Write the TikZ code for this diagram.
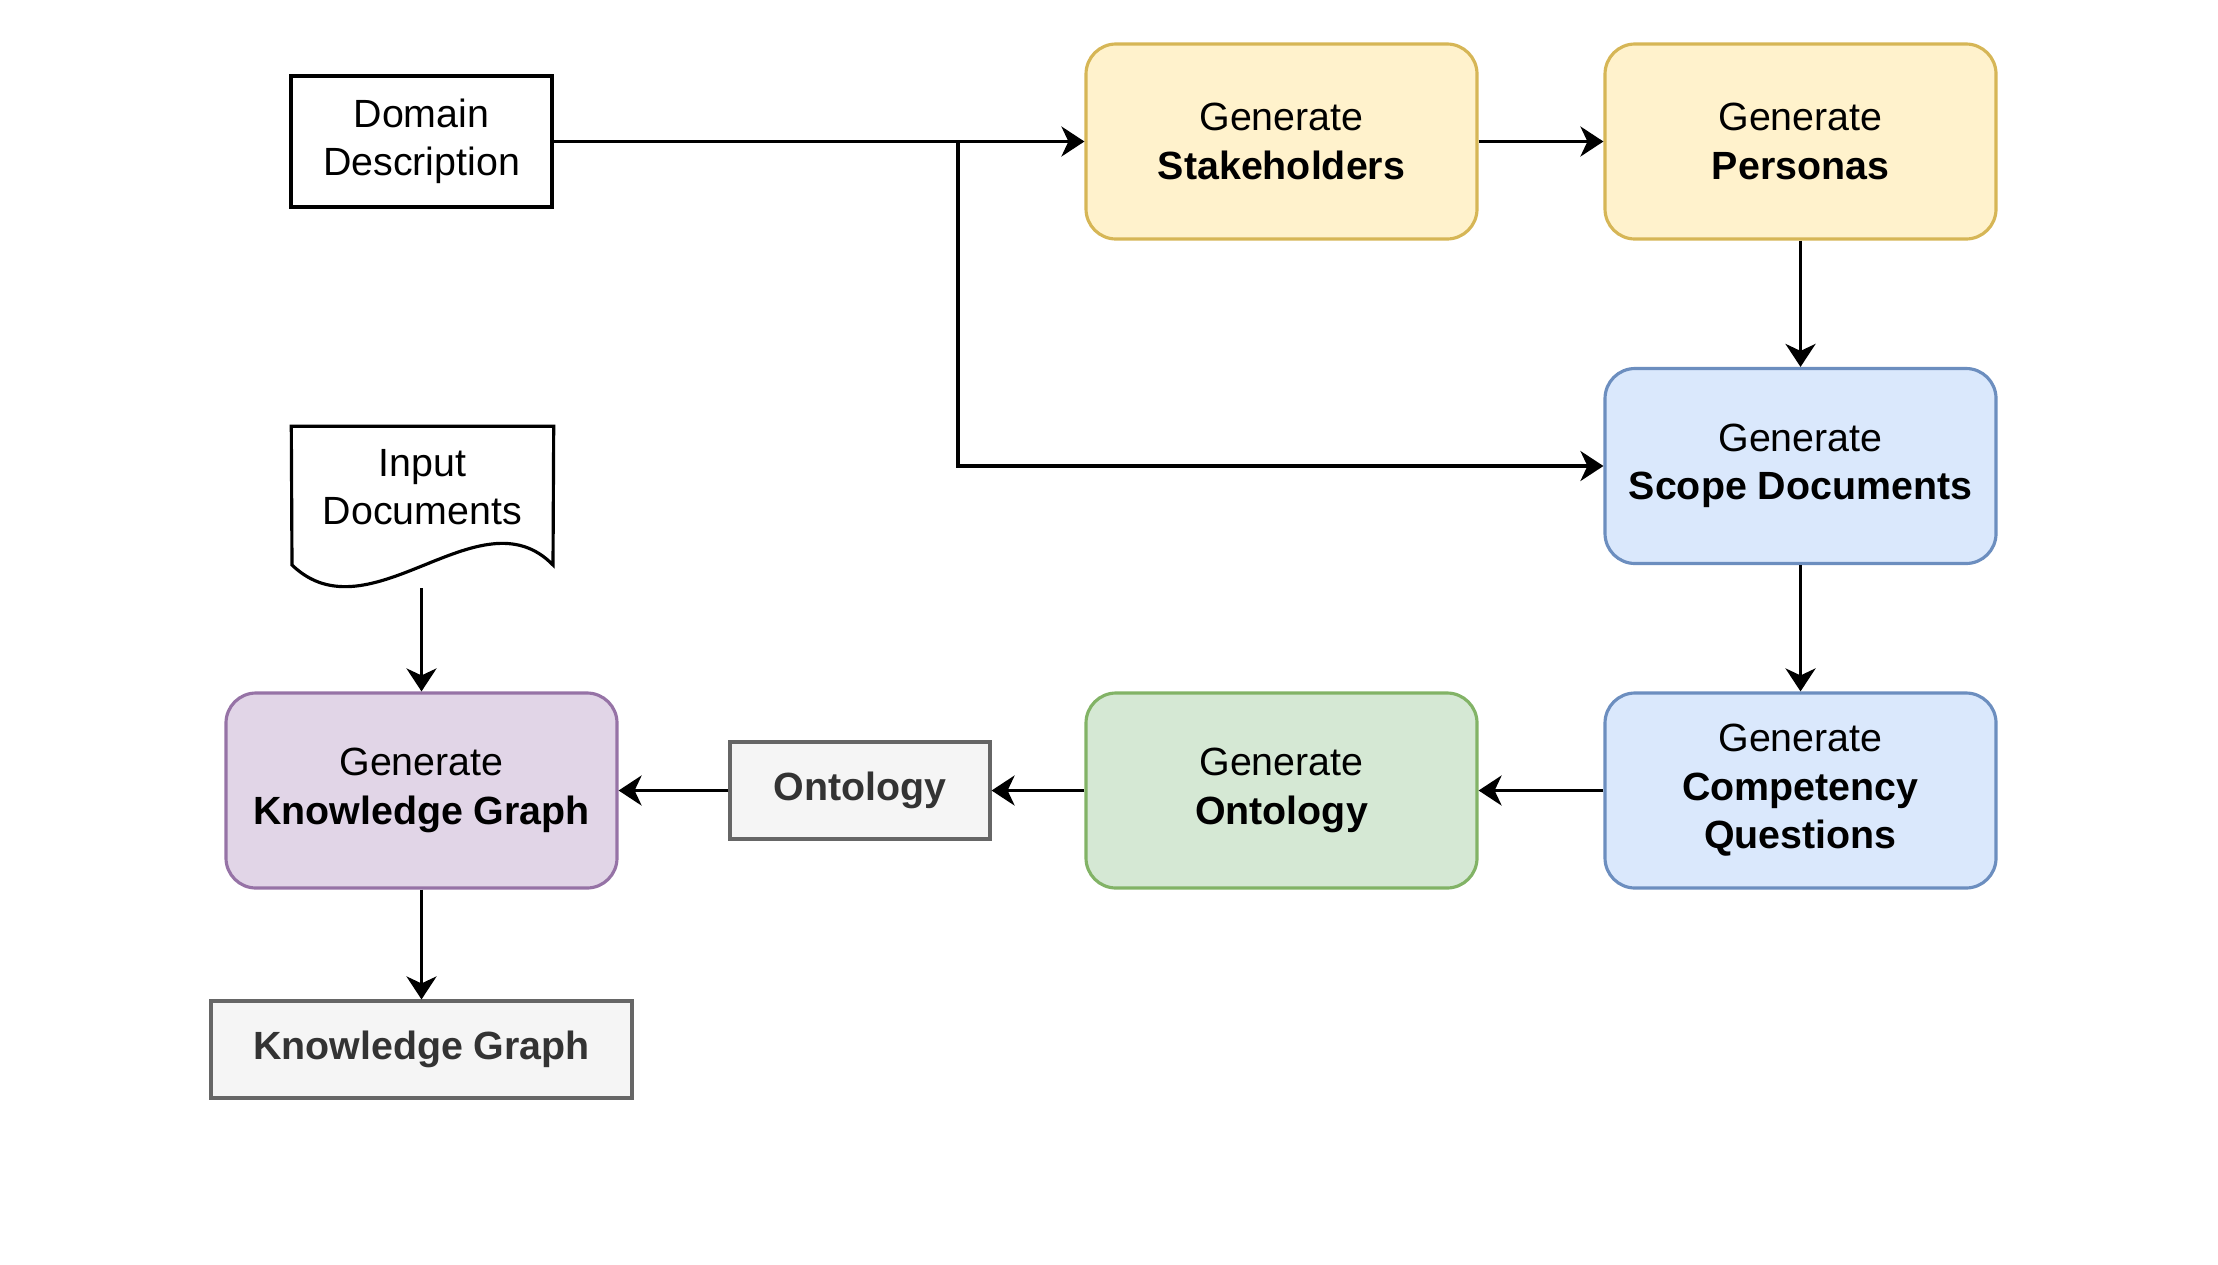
\documentclass[tikz,border=0pt]{standalone}
\usepackage{fontspec}
\setmainfont{Liberation Sans}
\usetikzlibrary{arrows.meta,calc}

\definecolor{ylwfill}{HTML}{FFF2CC}
\definecolor{ylwline}{HTML}{D6B656}
\definecolor{bluefill}{HTML}{DAE8FC}
\definecolor{blueline}{HTML}{6C8EBF}
\definecolor{grnfill}{HTML}{D5E8D4}
\definecolor{grnline}{HTML}{82B366}
\definecolor{purfill}{HTML}{E1D5E7}
\definecolor{purline}{HTML}{9673A6}
\definecolor{grayfill}{HTML}{F5F5F5}
\definecolor{grayline}{HTML}{666666}
\definecolor{graytext}{HTML}{333333}

\begin{document}
\begin{tikzpicture}[
            genbox/.style={draw, rounded corners=0.3cm, line width=0.9pt, minimum width=3.91cm, minimum height=1.95cm, align=center, font=\fontsize{11.2}{13.8}\selectfont},
            inbox/.style={draw, rectangle, line width=0.9pt, minimum width=2.61cm, minimum height=1.31cm, align=center, font=\fontsize{11.2}{13.8}\selectfont},
            outbox/.style={draw=grayline, fill=grayfill, rectangle, line width=0.9pt, minimum height=0.97cm, text=graytext, font=\fontsize{11.2}{13.8}\selectfont\bfseries},
            arrow/.style={-{Stealth[length=2.3mm, width=3mm, inset=0.7mm]}, line width=0.9pt}
        ]

            \useasboundingbox (0,0) rectangle (22.18,-12.64);

% Inputs on the left
            \node (domain) [inbox] at (4.215,-1.415) {Domain\\Description};
            \node (input) [minimum width=2.61cm, minimum height=1.2cm, align=center, font=\fontsize{11.2}{13.8}\selectfont] at (4.225,-4.87) {Input\\Documents};
            \draw [line width=0.9pt] (input.north west) -- (input.north east) -- (5.53,-5.65)
                .. controls (4.80,-4.90) and (3.70,-6.40) .. (2.92,-5.65) -- cycle;
            \coordinate (inbot) at (4.215,-5.88);

% Generation steps
            \node (stake) [genbox, fill=ylwfill, draw=ylwline] at (12.815,-1.415) {Generate\\\textbf{Stakeholders}};
            \node (pers) [genbox, fill=ylwfill, draw=ylwline] at (18.005,-1.415) {Generate\\\textbf{Personas}};
            \node (scope) [genbox, fill=bluefill, draw=blueline] at (18.005,-4.66) {Generate\\\textbf{Scope Documents}};
            \node (cq) [genbox, fill=bluefill, draw=blueline] at (18.005,-7.905) {Generate\\\textbf{Competency}\\\textbf{Questions}};
            \node (genonto) [genbox, fill=grnfill, draw=grnline] at (12.815,-7.905) {Generate\\\textbf{Ontology}};
            \node (genkg) [genbox, fill=purfill, draw=purline] at (4.215,-7.905) {Generate\\\textbf{Knowledge Graph}};

% Outputs
            \node (onto) [outbox, minimum width=2.60cm] at (8.60,-7.905) {Ontology};
            \node (kg) [outbox, minimum width=4.21cm] at (4.215,-10.495) {Knowledge Graph};

% Branch point on the domain line
            \coordinate (branch) at (9.58,-1.415);

% Arrows
            \draw [arrow] (domain.east) -- (stake.west);
            \draw [arrow] (branch) |- (scope.west);
            \draw [arrow] (stake.east) -- (pers.west);
            \draw [arrow] (pers.south) -- (scope.north);
            \draw [arrow] (scope.south) -- (cq.north);
            \draw [arrow] (cq.west) -- (genonto.east);
            \draw [arrow] (genonto.west) -- (onto.east);
            \draw [arrow] (onto.west) -- (genkg.east);
            \draw [arrow] (inbot) -- (genkg.north);
            \draw [arrow] (genkg.south) -- (kg.north);

        \end{tikzpicture}
\end{document}
